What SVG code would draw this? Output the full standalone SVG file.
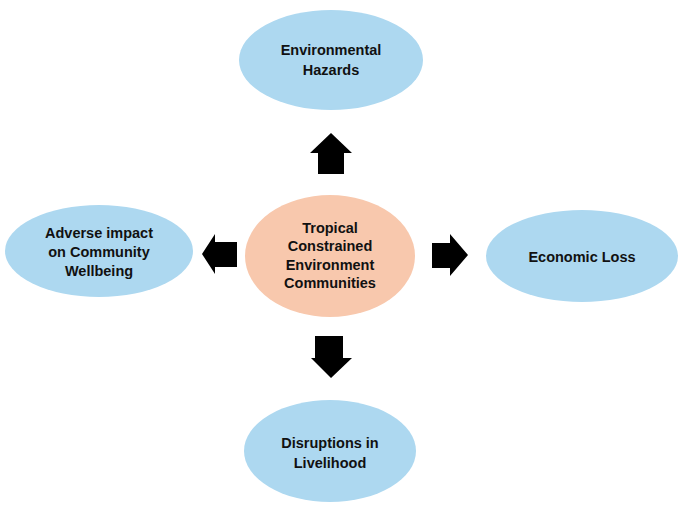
<svg xmlns="http://www.w3.org/2000/svg" width="685" height="512" viewBox="0 0 685 512">
<style>
.b{fill:#ADD8F0}
.c{fill:#F8C8AD}
text{font-family:"Liberation Sans",Arial,sans-serif;font-weight:bold;font-size:14.5px;fill:#111;text-anchor:middle}
.a{fill:#000}
</style>
<rect width="685" height="512" fill="#fff"/>
<g id="hazards"><ellipse class="b" cx="331" cy="60" rx="92" ry="50"/><text x="331" y="55">Environmental</text><text x="331" y="75">Hazards</text></g>
<g id="center"><ellipse class="c" cx="330" cy="256" rx="85" ry="61"/><text x="330" y="233">Tropical</text><text x="330" y="251">Constrained</text><text x="330" y="270">Environment</text><text x="330" y="288">Communities</text></g>
<g id="adverse"><ellipse class="b" cx="99" cy="251" rx="94" ry="46"/><text x="99" y="238">Adverse impact</text><text x="99" y="257">on Community</text><text x="99" y="276">Wellbeing</text></g>
<g id="economic"><ellipse class="b" cx="582" cy="256" rx="96" ry="46"/><text x="582" y="262">Economic Loss</text></g>
<g id="disruptions"><ellipse class="b" cx="330" cy="451" rx="86" ry="51"/><text x="330" y="448">Disruptions in</text><text x="330" y="468">Livelihood</text></g>
<g id="connectors">
<polygon class="a" points="331,133 352,153 344,153 344,174 318,174 318,153 310,153"/>
<polygon class="a" points="331,378 352,358 343,358 343,336 315,336 315,358 311,358"/>
<polygon class="a" points="202,254 215,234 215,242 237,242 237,267 215,267 215,274"/>
<polygon class="a" points="468,255 450,234 450,243 432,243 432,268 450,268 450,276"/>
</g>
</svg>
